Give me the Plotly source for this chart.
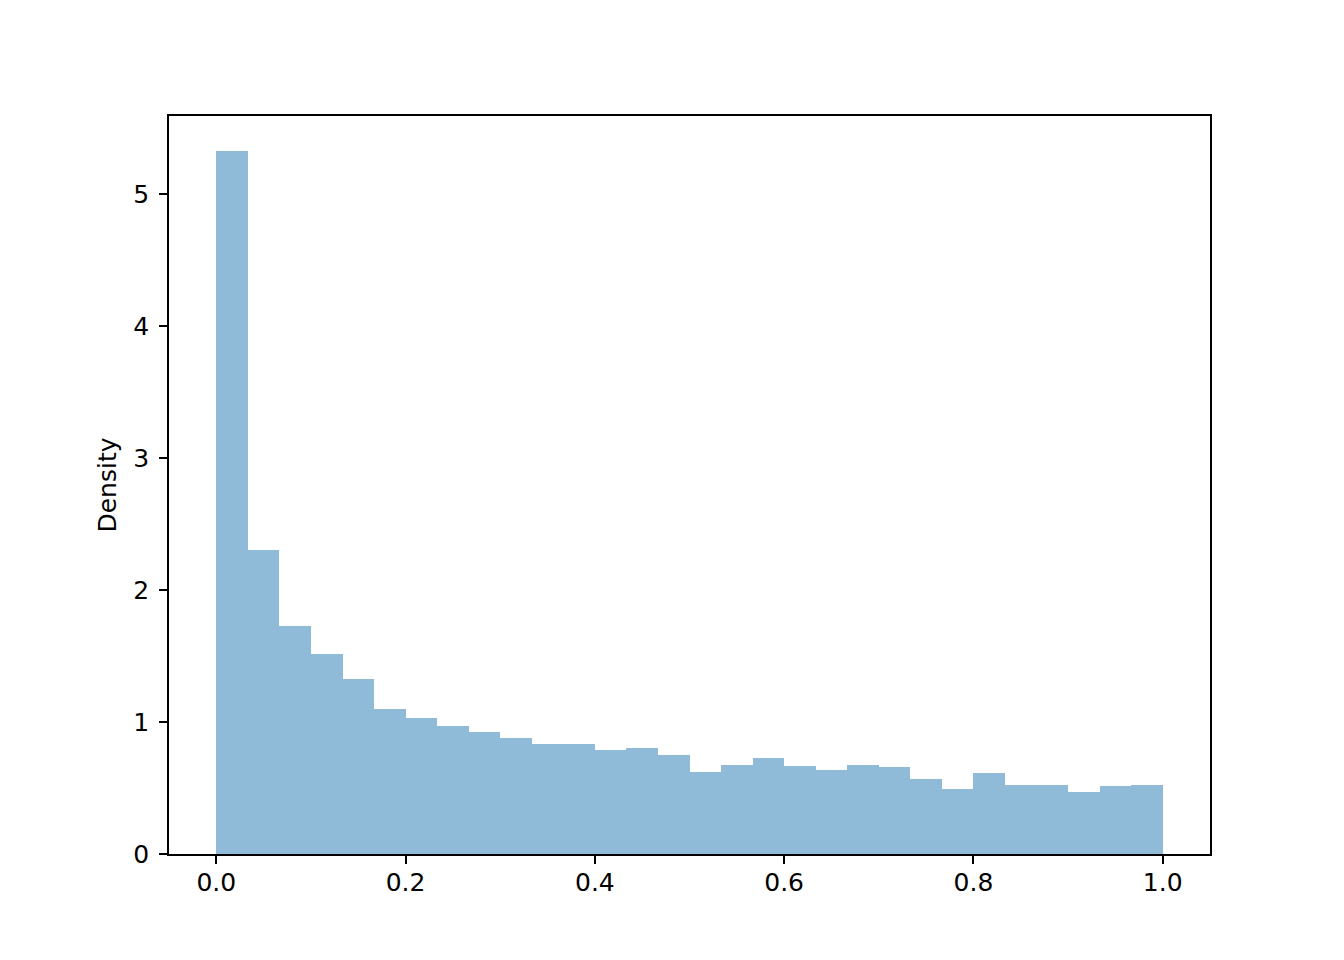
import numpy as np
import plotly.graph_objects as go

# histogram, 30 equal bins on [0, 1], density normalised
bin_edges = np.linspace(0.0, 1.0, 31)
density = [
    5.325, 2.30, 1.725, 1.513, 1.324, 1.097, 1.029, 0.968, 0.923, 0.877,
    0.832, 0.832, 0.787, 0.802, 0.749, 0.620, 0.673, 0.726, 0.666, 0.635,
    0.673, 0.658, 0.567, 0.492, 0.613, 0.522, 0.522, 0.469, 0.514, 0.522,
]

x_ticks = [0.0, 0.2, 0.4, 0.6, 0.8, 1.0]
y_ticks = [0, 1, 2, 3, 4, 5]

centers = (bin_edges[:-1] + bin_edges[1:]) / 2
widths = np.diff(bin_edges)

FONT = dict(family="DejaVu Sans", size=25, color="black")

fig = go.Figure()
fig.add_trace(
    go.Bar(
        x=centers,
        y=density,
        width=widths,
        marker=dict(color="rgba(31,119,180,0.5)", line=dict(width=0)),
        hoverinfo="skip",
    )
)

axis_style = dict(
    showline=True,
    linecolor="black",
    linewidth=1.6,
    mirror=True,
    ticks="outside",
    ticklen=8,
    tickwidth=1.6,
    tickcolor="black",
    showgrid=False,
    zeroline=False,
    tickfont=FONT,
)

fig.update_layout(
    width=1344,
    height=960,
    margin=dict(l=161, r=142, t=108, b=114),
    paper_bgcolor="white",
    plot_bgcolor="white",
    showlegend=False,
    bargap=0,
    xaxis=dict(
        range=[-0.05, 1.05],
        tickvals=x_ticks,
        ticktext=[f"{v:.1f}" for v in x_ticks],
        ticklabelstandoff=-3,
        **axis_style,
    ),
    yaxis=dict(
        range=[0, 5.59],
        tickvals=y_ticks,
        ticklabelstandoff=5,
        title=dict(text="Density", font=FONT, standoff=10),
        **axis_style,
    ),
)

fig.write_html("out.html")
